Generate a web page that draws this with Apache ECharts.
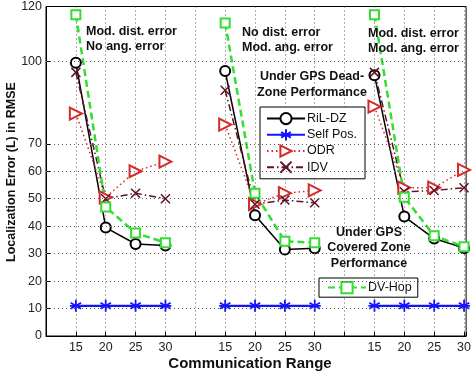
<!DOCTYPE html>
<html><head><meta charset="utf-8">
<script src="https://cdn.jsdelivr.net/npm/echarts@6/dist/echarts.min.js"></script>
<style>html,body{margin:0;padding:0;background:#fff}#c{width:474px;height:375px}</style>
</head><body><div id="c"></div>
<script>
// ---- data ----
const ranges = [15, 20, 25, 30];
const scenarioLabels = ['Mod. dist. error\nNo ang. error', 'No dist. error\nMod. ang. error', 'Mod. dist. error\nMod. ang. error'];
const yTickValues = [0, 10, 20, 30, 40, 50, 60, 70, 100, 120];
const rilDZ   = [[99.5, 39.5, 33.5, 33], [96.5, 44, 31.5, 32], [95, 43.5, 35.5, 32]];
const selfPos = [[11, 11, 11, 11], [11, 11, 11, 11], [11, 11, 11, 11]];
const odr     = [[81, 50.5, 60, 63.5], [77, 48, 52, 53], [83.5, 54, 54, 60.5]];
const idv     = [[96, 50, 52, 50], [89.5, 48, 49.5, 48.5], [96, 52.5, 53, 54]];
const dvHop   = [[117, 47, 37.5, 34], [114, 52, 34.5, 34], [117, 50.5, 36.5, 32.5]];

const step = ranges.length + 1;
function toData(groups) {
  const out = [];
  groups.forEach((vals, g) => {
    vals.forEach((v, i) => out.push([g * step + i + 1, v]));
    out.push([g * step + step, '-']);
  });
  return out;
}
const FF = '"Liberation Sans", Arial, sans-serif';
const chart = echarts.init(document.getElementById('c'), null, {renderer: 'canvas'});
const asterisk = 'path://M0,-10L0,10M-8.7,-5L8.7,5M-8.7,5L8.7,-5M-10,0L10,0';
const cross = 'path://M-10,-10L10,10M-10,10L10,-10';

const gridLineData = yTickValues.filter(v => v > 0 && v < 120).map(v => ({yAxis: v}));

const option = {
  backgroundColor: '#fff',
  animation: false,
  grid: {left: 46, right: 7, top: 6, bottom: 39, show: true, borderColor: '#000', borderWidth: 1, backgroundColor: '#fff'},
  xAxis: {
    type: 'value', min: 0, max: 14.07, interval: 1,
    axisLine: {lineStyle: {color: '#000', width: 1}},
    axisTick: {inside: true, length: 4, lineStyle: {color: '#000'}},
    axisLabel: {
      color: '#222', fontSize: 12.5, fontFamily: FF, margin: 5,
      formatter: v => (Number.isInteger(v) && v % step !== 0) ? String(ranges[(v % step) - 1]) : ''
    },
    splitLine: {show: true, showMinLine: false, showMaxLine: false, lineStyle: {color: '#5a5a5a', type: [1, 3], width: 1}}
  },
  yAxis: {
    type: 'value', min: 0, max: 120, interval: 10,
    axisLine: {show: true, lineStyle: {color: '#000', width: 1}},
    axisTick: {show: true, inside: true, length: 4, lineStyle: {color: '#000'}, customValues: yTickValues},
    axisLabel: {
      color: '#222', fontSize: 12.5, fontFamily: FF, margin: 4,
      formatter: v => yTickValues.indexOf(v) >= 0 ? String(v) : ''
    },
    splitLine: {show: false}
  },
  legend: [
    {
      data: ['RiL-DZ', 'Self Pos.', 'ODR', 'IDV'],
      orient: 'vertical', left: 260, top: 107,
      itemWidth: 38, itemHeight: 14, itemGap: 3,
      padding: [5, 8, 5, 6],
      backgroundColor: '#fff', borderColor: '#000', borderWidth: 1,
      textStyle: {fontSize: 12.5, fontFamily: FF, color: '#111', padding: [0, 0, 0, -3]}
    },
    {
      data: ['DV-Hop'],
      left: 319, top: 278,
      itemWidth: 38, itemHeight: 14,
      padding: [3, 6, 3, 8],
      backgroundColor: '#fff', borderColor: '#000', borderWidth: 1,
      textStyle: {fontSize: 12.5, fontFamily: FF, color: '#111', padding: [0, 0, 0, -3]}
    }
  ],
  series: [
    {
      name: 'grid', type: 'line', data: [], silent: true, z: 0,
      markLine: {silent: true, symbol: 'none', label: {show: false}, animation: false,
        lineStyle: {color: '#5a5a5a', type: [1, 3], width: 1}, data: gridLineData}
    },
    {
      name: 'RiL-DZ', type: 'line', data: toData(rilDZ), connectNulls: false,
      symbol: 'emptyCircle', symbolSize: 10,
      lineStyle: {color: '#000', width: 1.5},
      itemStyle: {color: '#000', borderColor: '#000', borderWidth: 1.3}
    },
    {
      name: 'Self Pos.', type: 'line', data: toData(selfPos), connectNulls: false,
      symbol: asterisk, symbolSize: 12,
      lineStyle: {color: '#1414ff', width: 2.3},
      itemStyle: {color: '#1414ff', borderColor: '#1414ff', borderWidth: 1.8}
    },
    {
      name: 'ODR', type: 'line', data: toData(odr), connectNulls: false,
      symbol: 'emptyTriangle', symbolSize: 12, symbolRotate: -90,
      lineStyle: {color: '#d42a2a', width: 1.5, type: [1.5, 3]},
      itemStyle: {color: '#d42a2a', borderColor: '#d42a2a', borderWidth: 1.5}
    },
    {
      name: 'IDV', type: 'line', data: toData(idv), connectNulls: false,
      symbol: cross, symbolSize: 9,
      lineStyle: {color: '#5e1424', width: 1.5, type: [7, 3, 1.5, 3]},
      itemStyle: {color: '#5e1424', borderColor: '#5e1424', borderWidth: 1.5}
    },
    {
      name: 'DV-Hop', type: 'line', data: toData(dvHop), connectNulls: false,
      symbol: 'emptyRect', symbolSize: 9,
      lineStyle: {color: '#33dd33', width: 2.5, type: [7, 4]},
      itemStyle: {color: '#33dd33', borderColor: '#33dd33', borderWidth: 1.5}
    }
  ],
  graphic: [
    {type: 'text', left: 86, top: 24, z: 100, style: {text: scenarioLabels[0], fontSize: 12.5, fontWeight: 'bold', fontFamily: FF, fill: '#111', lineHeight: 15}},
    {type: 'text', left: 242, top: 25, z: 100, style: {text: scenarioLabels[1], fontSize: 12.5, fontWeight: 'bold', fontFamily: FF, fill: '#111', lineHeight: 15}},
    {type: 'text', left: 368, top: 26, z: 100, style: {text: scenarioLabels[2], fontSize: 12.5, fontWeight: 'bold', fontFamily: FF, fill: '#111', lineHeight: 15}},
    {type: 'text', x: 312, y: 85, z: 100, style: {text: 'Under GPS Dead-\nZone Performance', fontSize: 12.5, fontWeight: 'bold', fontFamily: FF, fill: '#111', lineHeight: 16, align: 'center', verticalAlign: 'middle'}},
    {type: 'text', x: 369, y: 248, z: 100, style: {text: 'Under GPS\nCovered Zone\nPerformance', fontSize: 12.5, fontWeight: 'bold', fontFamily: FF, fill: '#111', lineHeight: 15.5, align: 'center', verticalAlign: 'middle'}},
    {type: 'text', x: 12, y: 172, rotation: Math.PI / 2, z: 100, style: {text: 'Localization Error (L) in RMSE', fontSize: 12.5, fontWeight: 'bold', fontFamily: FF, fill: '#111', align: 'center', verticalAlign: 'middle'}},
    {type: 'text', x: 250, y: 364, z: 100, style: {text: 'Communication Range', fontSize: 15, fontWeight: 'bold', fontFamily: FF, fill: '#111', align: 'center', verticalAlign: 'middle'}}
  ]
};
chart.setOption(option);
</script>
</body></html>
